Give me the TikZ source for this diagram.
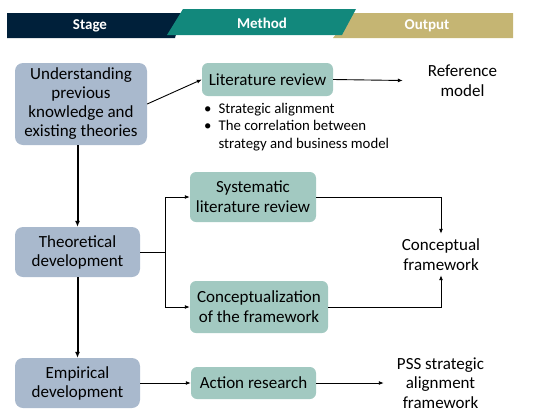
\documentclass[tikz,border=0pt]{standalone}
\usepackage{fontspec}
\setmainfont{Carlito}
\usetikzlibrary{arrows.meta,calc}
\definecolor{navyc}{HTML}{00203A}
\definecolor{tealc}{HTML}{12887C}
\definecolor{goldc}{HTML}{C5B573}
\definecolor{stagec}{HTML}{A9B9CD}
\definecolor{methc}{HTML}{A2C9C1}
\begin{document}
\begin{tikzpicture}[x=1pt,y=-1pt,
  stagebox/.style={fill=stagec,rounded corners=8pt,align=center,inner sep=0pt,font=\fontsize{17}{19}\selectfont},
  methbox/.style={fill=methc,rounded corners=6pt,align=center,inner sep=0pt,font=\fontsize{17}{20}\selectfont},
  outbox/.style={fill=white,align=center,inner sep=0pt,font=\fontsize{17}{19.5}\selectfont},
  hdr/.style={text=white,font=\fontsize{15}{19}\selectfont\bfseries},
  arr/.style={-{Latex[length=5pt,width=4pt]},line width=0.9pt},
  varr/.style={-{Latex[length=6pt,width=5pt]},line width=2pt}]
\useasboundingbox (0,0) rectangle (550,416);
% header
\fill[goldc] (353,13) -- (513,13) -- (513,38) -- (333,38) -- cycle;
\fill[navyc] (7,13) -- (182,13) -- (175,38) -- (7,38) -- cycle;
\fill[tealc] (183,9) -- (356,9) -- (342,35) -- (167,35) -- cycle;
\node[hdr] (hstage) at (90,26) {Stage};
\node[hdr] (hmethod) at (262,23) {Method};
\node[hdr] (houtput) at (427,26) {Output};
% stage boxes
\node[stagebox,minimum width=132pt,minimum height=82pt] (under) at (81,104) {Understanding\\previous\\knowledge and\\existing theories};
\node[stagebox,minimum width=125pt,minimum height=50pt] (theo) at (77.5,252) {Theoretical\\development};
\node[stagebox,minimum width=125pt,minimum height=50pt] (emp) at (77.5,383) {Empirical\\development};
% method boxes
\node[methbox,minimum width=131pt,minimum height=33pt] (lit) at (267.5,79.5) {Literature review};
\node[methbox,minimum width=126pt,minimum height=50pt] (sys) at (253,197) {Systematic\\literature review};
\node[methbox,minimum width=138pt,minimum height=52pt] (conc) at (259,307) {Conceptualization\\of the framework};
\node[methbox,minimum width=125pt,minimum height=32pt] (act) at (253.5,383) {Action research};
% bullets
\node[anchor=north west,inner sep=0pt,font=\fontsize{14.8}{17.5}\selectfont] (bul) at (204,101)
 {\begin{tabular}{@{}l@{\hspace{7pt}}l@{}}\textbullet&Strategic alignment\\ \textbullet&The correlation between\\ &strategy and business model\end{tabular}};
% output boxes
\node[outbox,minimum width=119pt,minimum height=43pt] (ref) at (462.5,80.5) {Reference\\model};
\node[outbox,minimum width=112pt,minimum height=41pt] (cf) at (441,254.5) {Conceptual\\framework};
\node[outbox,minimum width=113pt,minimum height=60pt] (pss) at (440.5,383) {PSS strategic\\alignment\\framework};
% connectors
\draw[arr] (under.east) -- (lit.west);
\draw[arr] (lit.east) -- (ref.west);
\draw[varr] (theo.north |- under.south) -- (theo.north);
\draw[varr] (theo.south) -- (emp.north);
\draw[arr] (theo.east) -- ++(25,0) |- (sys.west);
\draw[arr] (theo.east) -- ++(25,0) |- (conc.west);
\draw[arr] (sys.east) -| (cf.north);
\draw[arr] (conc.east) -| (cf.south);
\draw[arr] (emp.east) -- (act.west);
\draw[arr] (act.east) -- (pss.west);
\end{tikzpicture}
\end{document}
